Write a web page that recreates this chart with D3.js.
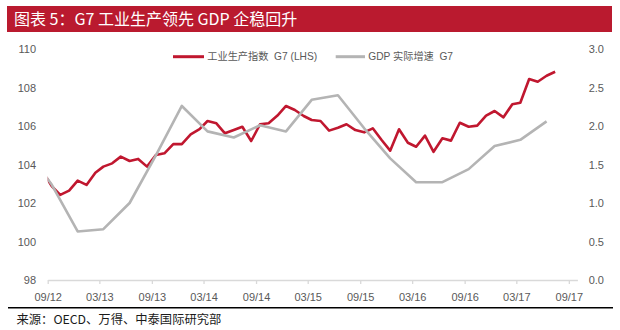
<!DOCTYPE html>
<html><head><meta charset="utf-8">
<script src="https://cdn.jsdelivr.net/npm/d3@7"></script>
<style>body{margin:0;background:#fff} svg{display:block}</style>
</head><body><svg id="c" width="620" height="330"></svg>
<script>
// ---- data ----
const ipMonths = ["2012-08","2012-09","2012-10","2012-11","2012-12",
 "2013-01","2013-02","2013-03","2013-04","2013-05","2013-06","2013-07","2013-08","2013-09","2013-10","2013-11","2013-12",
 "2014-01","2014-02","2014-03","2014-04","2014-05","2014-06","2014-07","2014-08","2014-09","2014-10","2014-11","2014-12",
 "2015-01","2015-02","2015-03","2015-04","2015-05","2015-06","2015-07","2015-08","2015-09","2015-10","2015-11","2015-12",
 "2016-01","2016-02","2016-03","2016-04","2016-05","2016-06","2016-07","2016-08","2016-09","2016-10","2016-11","2016-12",
 "2017-01","2017-02","2017-03","2017-04","2017-05","2017-06","2017-07"];
const ipValues = [103.62,102.88,102.42,102.64,103.16,
 102.94,103.57,103.89,104.06,104.41,104.18,104.29,103.89,104.49,104.58,105.06,105.06,
 105.57,105.84,106.26,106.14,105.62,105.79,105.96,105.22,106.09,106.14,106.54,107.04,
 106.83,106.52,106.31,106.26,105.76,105.91,106.09,105.79,105.67,105.88,105.27,104.72,
 105.83,105.13,104.92,105.50,104.66,105.36,105.24,106.17,105.96,106.02,106.54,106.78,
 106.45,107.13,107.21,108.44,108.30,108.61,108.82];
const gdpQuarters = ["2012-06","2012-09","2012-12","2013-03","2013-06","2013-09","2013-12",
 "2014-03","2014-06","2014-09","2014-12","2015-03","2015-06","2015-09","2015-12",
 "2016-03","2016-06","2016-09","2016-12","2017-03","2017-06"];
const gdpValues = [1.70,1.24,0.63,0.66,1.00,1.62,2.26,1.93,1.85,2.01,1.93,2.34,2.40,1.97,1.58,1.27,1.27,1.44,1.74,1.82,2.06];
const xTickMonths = ["2012-09","2013-03","2013-09","2014-03","2014-09","2015-03","2015-09","2016-03","2016-09","2017-03","2017-09"];
const leftTicks = [98,100,102,104,106,108,110];
const rightTicks = [0,0.5,1.0,1.5,2.0,2.5,3.0];
const titleText = "图表 5：G7 工业生产领先 GDP 企稳回升";
const sourceText = "来源：OECD、万得、中泰国际研究部";
const legendLabels = ["工业生产指数  G7 (LHS)", "GDP 实际增速  G7"];

// ---- chart ----
const svg = d3.select("#c");
const numFont = "'Liberation Sans', Arial, 'Noto Sans CJK SC', sans-serif";
const cjkFont = "'Noto Sans CJK SC', 'Liberation Sans', sans-serif";
const RED = "#C0172F", GRAY = "#B4B4B4", TXT = "#595959";

const pMid = d3.timeParse("%Y-%m-%d");
const mid = s => pMid(s + "-15");
const first = s => pMid(s + "-01");

const x = d3.scaleTime().domain([first("2012-09"), first("2017-10")]).range([47.7, 577.4]);
const yL = d3.scaleLinear().domain([98, 110]).range([280, 49]);
const yR = d3.scaleLinear().domain([0, 3]).range([280, 49]);

// title band
svg.append("rect").attr("x", 7).attr("y", 6).attr("width", 605).attr("height", 26).attr("fill", "#BA1A2F");
svg.append("text").attr("x", 14).attr("y", 19).attr("dy", "0.36em")
  .attr("fill", "#fff").attr("font-family", cjkFont).attr("font-size", 16).text(titleText);

// clip
svg.append("defs").append("clipPath").attr("id", "plot")
  .append("rect").attr("x", 47.7).attr("y", 0).attr("width", 530).attr("height", 300);

// x axis
const xa = svg.append("g").attr("transform", "translate(0,280)")
  .call(d3.axisBottom(x).tickValues(xTickMonths.map(first)).tickFormat(d3.timeFormat("%m/%y"))
    .tickSize(4).tickSizeOuter(0).tickPadding(9));
xa.select(".domain").attr("stroke", "#D9D9D9").attr("stroke-width", 1.3);
xa.selectAll(".tick line").attr("stroke", "#D9D9D9").attr("stroke-width", 1.3);
xa.selectAll(".tick text").attr("fill", TXT).attr("font-family", numFont).attr("font-size", 11);

// left axis
const la = svg.append("g").attr("transform", "translate(47.7,0)")
  .call(d3.axisLeft(yL).tickValues(leftTicks).tickSize(0).tickPadding(11.7));
la.select(".domain").remove();
la.selectAll(".tick text").attr("fill", TXT).attr("font-family", numFont).attr("font-size", 11);

// right axis
const ra = svg.append("g").attr("transform", "translate(577.4,0)")
  .call(d3.axisRight(yR).tickValues(rightTicks).tickFormat(d3.format(".1f")).tickSize(0).tickPadding(11.3));
ra.select(".domain").remove();
ra.selectAll(".tick text").attr("fill", TXT).attr("font-family", numFont).attr("font-size", 11);

// lines
const g = svg.append("g").attr("clip-path", "url(#plot)");
const ipData = ipMonths.map((m, i) => ({d: mid(m), v: ipValues[i]}));
const gdpData = gdpQuarters.map((m, i) => ({d: mid(m), v: gdpValues[i]}));
g.append("path").datum(ipData).attr("fill", "none").attr("stroke", RED).attr("stroke-width", 2.6)
  .attr("stroke-linejoin", "round")
  .attr("d", d3.line().x(d => x(d.d)).y(d => yL(d.v)));
g.append("path").datum(gdpData).attr("fill", "none").attr("stroke", GRAY).attr("stroke-width", 2.6)
  .attr("stroke-linejoin", "round")
  .attr("d", d3.line().x(d => x(d.d)).y(d => yR(d.v)));

// legend
const leg = [{x1: 173, x2: 204, tx: 207.3, c: RED}, {x1: 335.7, x2: 365, tx: 368.3, c: GRAY}];
leg.forEach((l, i) => {
  svg.append("line").attr("x1", l.x1).attr("x2", l.x2).attr("y1", 56.7).attr("y2", 56.7)
    .attr("stroke", l.c).attr("stroke-width", 3);
  svg.append("text").attr("x", l.tx).attr("y", 56.7).attr("dy", "0.35em")
    .attr("fill", TXT).attr("font-family", numFont).attr("font-size", 10.2)
    .attr("xml:space", "preserve").style("white-space", "pre").text(legendLabels[i]);
});

// footer
svg.append("line").attr("x1", 8).attr("x2", 613).attr("y1", 307.7).attr("y2", 307.7)
  .attr("stroke", "#000").attr("stroke-width", 1.4);
svg.append("text").attr("x", 16.5).attr("y", 320).attr("dy", "0.36em")
  .attr("fill", "#1a1a1a").attr("font-family", cjkFont).attr("font-size", 12.3).text(sourceText);
</script></body></html>
